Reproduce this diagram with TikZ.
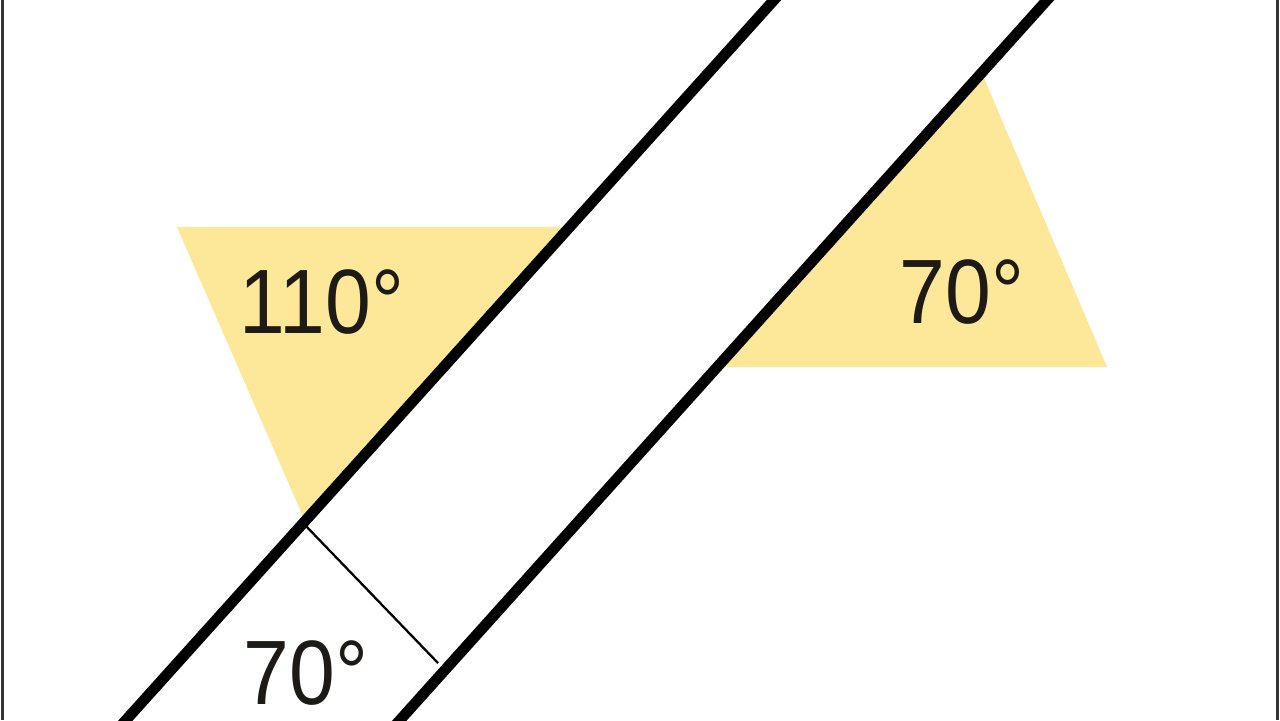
\documentclass[tikz,border=0pt]{standalone}
\usepackage{fontspec}
\setmainfont{Liberation Sans}[FakeStretch=0.9]
\definecolor{angfill}{RGB}{253,231,152}
\definecolor{inkc}{RGB}{30,26,22}
\begin{document}
\begin{tikzpicture}[x=0.01cm,y=-0.01cm,
  bigline/.style={line width=3.05pt,black,line cap=butt},
  thinline/.style={line width=0.65pt,black},
  frameline/.style={line width=0.75pt,black!80},
  anglab/.style={text=inkc,inner sep=0pt,font=\fontsize{26}{30}\selectfont}]
\useasboundingbox (0,0) rectangle (1280,720);
\fill[white] (0,0) rectangle (1280,720);
\begin{scope}
\clip (0,0) rectangle (1280,720);
% coordinates
\coordinate (a1) at (792,-20);
\coordinate (a2) at (108,740);
\coordinate (b1) at (1065,-20);
\coordinate (b2) at (382,740);
\coordinate (p) at (305,525);
\coordinate (q) at (438,663);
% yellow angle regions
\fill[angfill] (177,227) -- (576,227) -- (305,521) -- cycle;
\fill[angfill] (981,71) -- (1107,367) -- (715,367) -- cycle;
% thin perpendicular
\draw[thinline] (p) -- (q);
% parallel thick lines
\draw[bigline] (a1) -- (a2);
\draw[bigline] (b1) -- (b2);
% frame sides
\draw[frameline] (2.5,0) -- (2.5,720);
\draw[frameline] (1277.5,0) -- (1277.5,720);
\end{scope}
\node[anglab] (t110) at (322,302) {110°};
\node[anglab] (t70r) at (962,292) {70°};
\node[anglab] (t70b) at (306,673) {70°};
\end{tikzpicture}
\end{document}
